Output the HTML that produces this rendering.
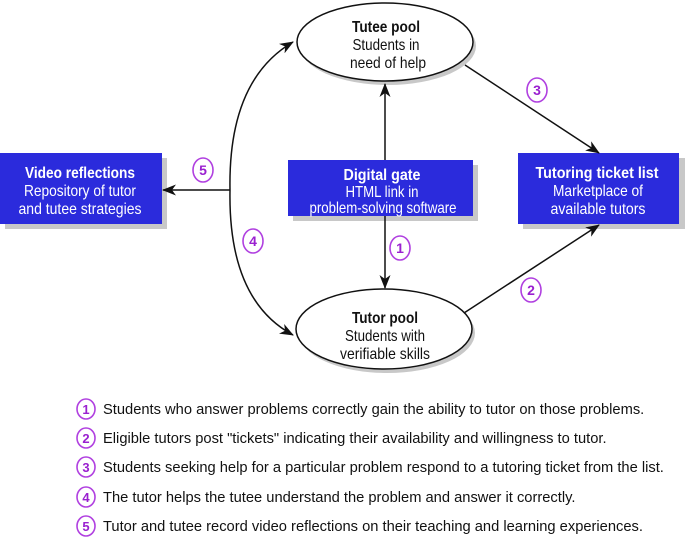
<!DOCTYPE html>
<html><head><meta charset="utf-8"><style>
body{margin:0;background:#fff;}
svg text{font-family:"Liberation Sans",sans-serif;}
.leg{font-size:14.7px;fill:#111;}
</style></head><body>
<svg width="685" height="541" viewBox="0 0 685 541" xmlns="http://www.w3.org/2000/svg">
<defs>
<marker id="a" markerWidth="14" markerHeight="11" refX="13" refY="5.5" orient="auto" markerUnits="userSpaceOnUse">
<path d="M0,0 L14,5.5 L0,11 L4,5.5 Z" fill="#111"/></marker>
</defs>
<rect x="5" y="158" width="162" height="71" fill="#c8c8c8"/>
<rect x="0" y="153" width="162" height="71" fill="#2b2bdc"/>
<rect x="293" y="165" width="185" height="56" fill="#c8c8c8"/>
<rect x="288" y="160" width="185" height="56" fill="#2b2bdc"/>
<rect x="523" y="158" width="162" height="71" fill="#c8c8c8"/>
<rect x="518" y="153" width="161" height="71" fill="#2b2bdc"/>
<ellipse cx="388" cy="46" rx="88" ry="39" fill="#c8c8c8"/>
<ellipse cx="385" cy="42" rx="88" ry="39" fill="#fff" stroke="#111" stroke-width="1.5"/>
<ellipse cx="387" cy="333" rx="88" ry="40" fill="#c8c8c8"/>
<ellipse cx="384" cy="329" rx="88" ry="40" fill="#fff" stroke="#111" stroke-width="1.5"/>
<g stroke="#111" stroke-width="1.5" fill="none">
<line x1="385" y1="160" x2="385" y2="84" marker-end="url(#a)"/>
<line x1="385" y1="216" x2="385" y2="288" marker-end="url(#a)"/>
<line x1="465" y1="65" x2="599" y2="153" marker-end="url(#a)"/>
<line x1="464" y1="313" x2="599" y2="225" marker-end="url(#a)"/>
<path d="M230,190 Q228,80 293,42" marker-end="url(#a)"/>
<path d="M230,190 Q228,300 293,335" marker-end="url(#a)"/>
<line x1="230" y1="190" x2="163" y2="190" marker-end="url(#a)"/>
</g>
<g fill="#fff" stroke="#b040e0" stroke-width="1.6">
<ellipse cx="400" cy="248" rx="10" ry="12"/>
<ellipse cx="537" cy="90" rx="10" ry="12"/>
<ellipse cx="531" cy="290" rx="10" ry="12"/>
<ellipse cx="203" cy="170" rx="10" ry="12"/>
<ellipse cx="253" cy="241" rx="10" ry="12"/>
</g>
<g fill="#9a20d0" font-size="14" font-weight="bold" text-anchor="middle">
<text x="400" y="253">1</text><text x="537" y="95">3</text><text x="531" y="295">2</text>
<text x="203" y="175">5</text><text x="253" y="246">4</text>
</g>
<g text-anchor="middle" font-size="16" fill="#111">
<text x="386" y="32" font-weight="bold" textLength="68" lengthAdjust="spacingAndGlyphs">Tutee pool</text>
<text x="386" y="50" textLength="67" lengthAdjust="spacingAndGlyphs">Students in</text>
<text x="388" y="68" textLength="76" lengthAdjust="spacingAndGlyphs">need of help</text>
<text x="385" y="323" font-weight="bold" textLength="66" lengthAdjust="spacingAndGlyphs">Tutor pool</text>
<text x="385" y="341" textLength="80" lengthAdjust="spacingAndGlyphs">Students with</text>
<text x="385" y="359" textLength="90" lengthAdjust="spacingAndGlyphs">verifiable skills</text>
</g>
<g text-anchor="middle" font-size="16" fill="#fff">
<text x="80" y="178" font-weight="bold" textLength="110" lengthAdjust="spacingAndGlyphs">Video reflections</text>
<text x="80" y="196" textLength="112" lengthAdjust="spacingAndGlyphs">Repository of tutor</text>
<text x="80" y="214" textLength="123" lengthAdjust="spacingAndGlyphs">and tutee strategies</text>
<text x="382" y="180" font-weight="bold" textLength="77" lengthAdjust="spacingAndGlyphs">Digital gate</text>
<text x="382" y="197" textLength="73" lengthAdjust="spacingAndGlyphs">HTML link in</text>
<text x="383" y="213" textLength="147" lengthAdjust="spacingAndGlyphs">problem-solving software</text>
<text x="597" y="178" font-weight="bold" textLength="123" lengthAdjust="spacingAndGlyphs">Tutoring ticket list</text>
<text x="598" y="196" textLength="90" lengthAdjust="spacingAndGlyphs">Marketplace of</text>
<text x="598" y="214" textLength="95" lengthAdjust="spacingAndGlyphs">available tutors</text>
</g>
<g fill="#fff" stroke="#b040e0" stroke-width="1.6">
<ellipse cx="86" cy="409" rx="9" ry="10"/>
<ellipse cx="86" cy="438" rx="9" ry="10"/>
<ellipse cx="86" cy="467" rx="9" ry="10"/>
<ellipse cx="86" cy="497" rx="9" ry="10"/>
<ellipse cx="86" cy="526" rx="9" ry="10"/>
</g>
<g fill="#9a20d0" font-size="13" font-weight="bold" text-anchor="middle">
<text x="86" y="414">1</text><text x="86" y="443">2</text><text x="86" y="472">3</text><text x="86" y="502">4</text><text x="86" y="531">5</text>
</g>
<text class="leg" x="103" y="414">Students who answer problems correctly gain the ability to tutor on those problems.</text>
<text class="leg" x="103" y="443">Eligible tutors post "tickets" indicating their availability and willingness to tutor.</text>
<text class="leg" x="103" y="472">Students seeking help for a particular problem respond to a tutoring ticket from the list.</text>
<text class="leg" x="103" y="502">The tutor helps the tutee understand the problem and answer it correctly.</text>
<text class="leg" x="103" y="531">Tutor and tutee record video reflections on their teaching and learning experiences.</text>
</svg>
</body></html>
